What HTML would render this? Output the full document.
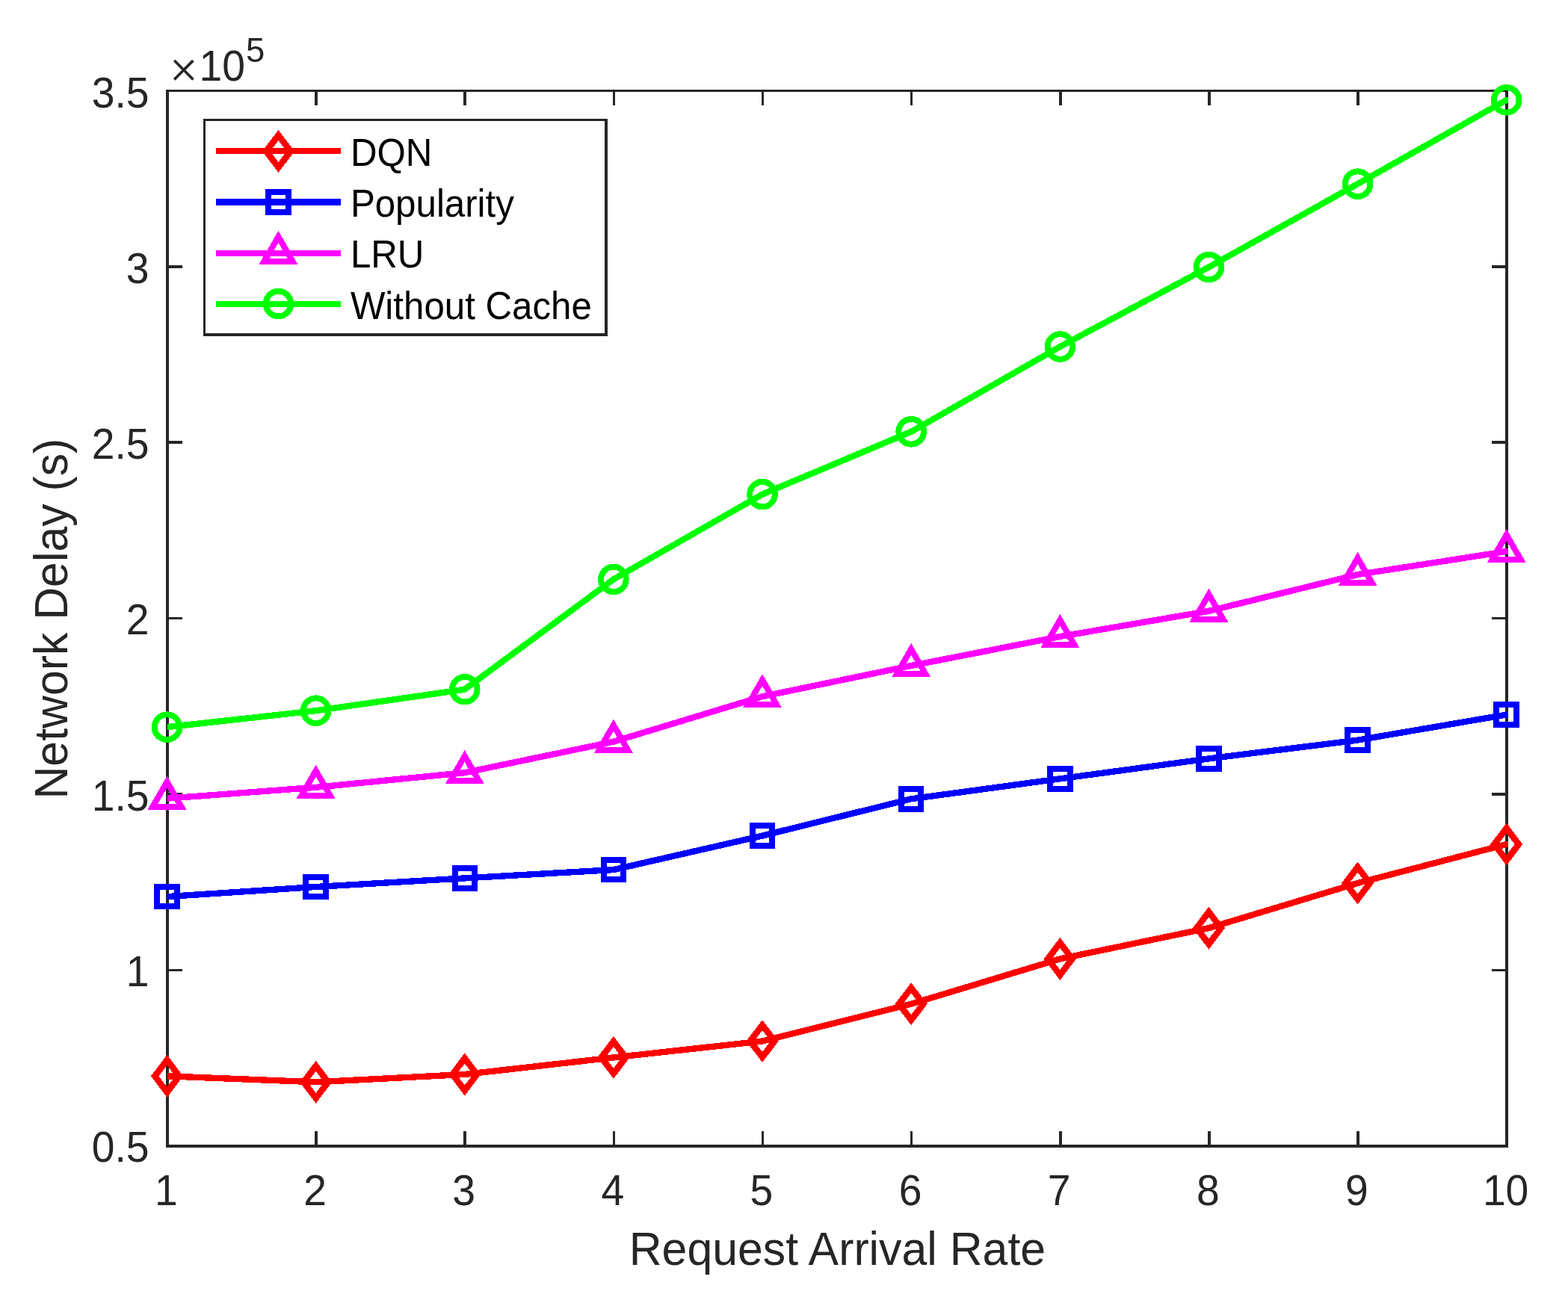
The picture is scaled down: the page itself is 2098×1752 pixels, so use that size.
<!DOCTYPE html>
<html lang="en"><head><meta charset="utf-8"><title>Network Delay vs Request Arrival Rate</title>
<style>
html,body{margin:0;padding:0;background:#fff;}
body{width:2098px;height:1752px;overflow:hidden;}
svg{display:block;}
text{font-family:"Liberation Sans",sans-serif;}
.tk{font-size:54.17px;fill:#262626;}
.mul{stroke:#fff;stroke-width:1.0px;}
.lb{font-size:59.6px;fill:#262626;}
.lg{font-size:50px;fill:#000;}
</style></head><body>
<svg width="2098" height="1752" viewBox="0 0 2098 1752" shape-rendering="crispEdges">
<rect x="0" y="0" width="2098" height="1752" fill="#ffffff"/>
<defs><clipPath id="ax"><rect x="223.9" y="121.5" width="1793.9999999999998" height="1412.35"/></clipPath></defs>

<g stroke="#262626" stroke-width="3.6" fill="none" stroke-linecap="butt">
<rect x="223.9" y="121.5" width="1792.1999999999998" height="1412.35"/>
<line x1="423.03" y1="1533.85" x2="423.03" y2="1513.85"/>
<line x1="423.03" y1="121.5" x2="423.03" y2="140.8"/>
<line x1="622.17" y1="1533.85" x2="622.17" y2="1513.85"/>
<line x1="622.17" y1="121.5" x2="622.17" y2="140.8"/>
<line x1="821.30" y1="1533.85" x2="821.30" y2="1513.85"/>
<line x1="821.30" y1="121.5" x2="821.30" y2="140.8"/>
<line x1="1020.43" y1="1533.85" x2="1020.43" y2="1513.85"/>
<line x1="1020.43" y1="121.5" x2="1020.43" y2="140.8"/>
<line x1="1219.57" y1="1533.85" x2="1219.57" y2="1513.85"/>
<line x1="1219.57" y1="121.5" x2="1219.57" y2="140.8"/>
<line x1="1418.70" y1="1533.85" x2="1418.70" y2="1513.85"/>
<line x1="1418.70" y1="121.5" x2="1418.70" y2="140.8"/>
<line x1="1617.83" y1="1533.85" x2="1617.83" y2="1513.85"/>
<line x1="1617.83" y1="121.5" x2="1617.83" y2="140.8"/>
<line x1="1816.97" y1="1533.85" x2="1816.97" y2="1513.85"/>
<line x1="1816.97" y1="121.5" x2="1816.97" y2="140.8"/>
<line x1="223.9" y1="1298.46" x2="243.9" y2="1298.46"/>
<line x1="2016.1" y1="1298.46" x2="1996.1" y2="1298.46"/>
<line x1="223.9" y1="1063.07" x2="243.9" y2="1063.07"/>
<line x1="2016.1" y1="1063.07" x2="1996.1" y2="1063.07"/>
<line x1="223.9" y1="827.68" x2="243.9" y2="827.68"/>
<line x1="2016.1" y1="827.68" x2="1996.1" y2="827.68"/>
<line x1="223.9" y1="592.28" x2="243.9" y2="592.28"/>
<line x1="2016.1" y1="592.28" x2="1996.1" y2="592.28"/>
<line x1="223.9" y1="356.89" x2="243.9" y2="356.89"/>
<line x1="2016.1" y1="356.89" x2="1996.1" y2="356.89"/>
</g>
<text class="tk" transform="translate(222.40 1612.70) scale(1.02 1.045)" text-anchor="middle">1</text>
<text class="tk" transform="translate(421.53 1612.70) scale(1.02 1.045)" text-anchor="middle">2</text>
<text class="tk" transform="translate(620.67 1612.70) scale(1.02 1.045)" text-anchor="middle">3</text>
<text class="tk" transform="translate(819.80 1612.70) scale(1.02 1.045)" text-anchor="middle">4</text>
<text class="tk" transform="translate(1018.93 1612.70) scale(1.02 1.045)" text-anchor="middle">5</text>
<text class="tk" transform="translate(1218.07 1612.70) scale(1.02 1.045)" text-anchor="middle">6</text>
<text class="tk" transform="translate(1417.20 1612.70) scale(1.02 1.045)" text-anchor="middle">7</text>
<text class="tk" transform="translate(1616.33 1612.70) scale(1.02 1.045)" text-anchor="middle">8</text>
<text class="tk" transform="translate(1815.47 1612.70) scale(1.02 1.045)" text-anchor="middle">9</text>
<text class="tk" transform="translate(2014.60 1612.70) scale(1.02 1.045)" text-anchor="middle">10</text>
<text class="tk" transform="translate(199.50 1555.00) scale(1.02 1.045)" text-anchor="end">0.5</text>
<text class="tk" transform="translate(199.50 1319.79) scale(1.02 1.045)" text-anchor="end">1</text>
<text class="tk" transform="translate(199.50 1084.58) scale(1.02 1.045)" text-anchor="end">1.5</text>
<text class="tk" transform="translate(199.50 849.38) scale(1.02 1.045)" text-anchor="end">2</text>
<text class="tk" transform="translate(199.50 614.17) scale(1.02 1.045)" text-anchor="end">2.5</text>
<text class="tk" transform="translate(199.50 378.96) scale(1.02 1.045)" text-anchor="end">3</text>
<text class="tk" transform="translate(199.50 143.75) scale(1.02 1.045)" text-anchor="end">3.5</text>
<text class="tk mul" transform="translate(226.60 115.80)" text-anchor="start" style="font-size:66.0px">×</text>
<text class="tk" transform="translate(266.50 108.00) scale(1.02 1.045)" text-anchor="start">10</text>
<text class="tk" transform="translate(329.00 83.20) scale(1.02 1.045)" text-anchor="start" style="font-size:44.6px">5</text>
<text class="lb" transform="translate(1120.40 1693.20) scale(1.02 1.07)" text-anchor="middle">Request Arrival Rate</text>
<text class="lb" transform="translate(90.10 828.10) rotate(-90) scale(1.02 1.07)" text-anchor="middle">Network Delay (s)</text>
<g clip-path="url(#ax)" fill="none" stroke-linejoin="round" stroke-linecap="round">
<polyline points="223.50,1440.30 422.63,1448.30 621.77,1438.00 820.90,1415.40 1020.03,1393.50 1219.17,1343.70 1418.30,1283.40 1617.43,1242.10 1816.57,1182.00 2015.70,1130.00" stroke="#ff0000" stroke-width="8.33"/>
<polyline points="223.50,1200.10 422.63,1187.00 621.77,1175.40 820.90,1164.10 1020.03,1118.60 1219.17,1069.30 1418.30,1042.30 1617.43,1015.40 1816.57,990.60 2015.70,956.50" stroke="#0000ff" stroke-width="8.33"/>
<polyline points="223.50,1068.70 422.63,1053.80 621.77,1034.20 820.90,992.70 1020.03,932.20 1219.17,891.00 1418.30,852.00 1617.43,817.80 1816.57,769.00 2015.70,738.00" stroke="#ff00ff" stroke-width="8.33"/>
<polyline points="223.50,973.20 422.63,951.20 621.77,922.70 820.90,775.40 1020.03,661.60 1219.17,577.80 1418.30,464.00 1617.43,357.50 1816.57,246.20 2015.70,133.80" stroke="#00ff00" stroke-width="8.33"/>
</g>
<g>
<path d="M223.50 1418.80L239.80 1440.30L223.50 1461.80L207.20 1440.30Z" fill="none" stroke="#ff0000" stroke-width="8.5" stroke-linejoin="miter" stroke-miterlimit="10"/>
<path d="M422.63 1426.80L438.93 1448.30L422.63 1469.80L406.33 1448.30Z" fill="none" stroke="#ff0000" stroke-width="8.5" stroke-linejoin="miter" stroke-miterlimit="10"/>
<path d="M621.77 1416.50L638.07 1438.00L621.77 1459.50L605.47 1438.00Z" fill="none" stroke="#ff0000" stroke-width="8.5" stroke-linejoin="miter" stroke-miterlimit="10"/>
<path d="M820.90 1393.90L837.20 1415.40L820.90 1436.90L804.60 1415.40Z" fill="none" stroke="#ff0000" stroke-width="8.5" stroke-linejoin="miter" stroke-miterlimit="10"/>
<path d="M1020.03 1372.00L1036.33 1393.50L1020.03 1415.00L1003.73 1393.50Z" fill="none" stroke="#ff0000" stroke-width="8.5" stroke-linejoin="miter" stroke-miterlimit="10"/>
<path d="M1219.17 1322.20L1235.47 1343.70L1219.17 1365.20L1202.87 1343.70Z" fill="none" stroke="#ff0000" stroke-width="8.5" stroke-linejoin="miter" stroke-miterlimit="10"/>
<path d="M1418.30 1261.90L1434.60 1283.40L1418.30 1304.90L1402.00 1283.40Z" fill="none" stroke="#ff0000" stroke-width="8.5" stroke-linejoin="miter" stroke-miterlimit="10"/>
<path d="M1617.43 1220.60L1633.73 1242.10L1617.43 1263.60L1601.13 1242.10Z" fill="none" stroke="#ff0000" stroke-width="8.5" stroke-linejoin="miter" stroke-miterlimit="10"/>
<path d="M1816.57 1160.50L1832.87 1182.00L1816.57 1203.50L1800.27 1182.00Z" fill="none" stroke="#ff0000" stroke-width="8.5" stroke-linejoin="miter" stroke-miterlimit="10"/>
<path d="M2015.70 1108.50L2032.00 1130.00L2015.70 1151.50L1999.40 1130.00Z" fill="none" stroke="#ff0000" stroke-width="8.5" stroke-linejoin="miter" stroke-miterlimit="10"/>
</g>
<g>
<rect x="210.25" y="1186.85" width="26.50" height="26.50" fill="none" stroke="#0000ff" stroke-width="8.0"/>
<rect x="409.38" y="1173.75" width="26.50" height="26.50" fill="none" stroke="#0000ff" stroke-width="8.0"/>
<rect x="608.52" y="1162.15" width="26.50" height="26.50" fill="none" stroke="#0000ff" stroke-width="8.0"/>
<rect x="807.65" y="1150.85" width="26.50" height="26.50" fill="none" stroke="#0000ff" stroke-width="8.0"/>
<rect x="1006.78" y="1105.35" width="26.50" height="26.50" fill="none" stroke="#0000ff" stroke-width="8.0"/>
<rect x="1205.92" y="1056.05" width="26.50" height="26.50" fill="none" stroke="#0000ff" stroke-width="8.0"/>
<rect x="1405.05" y="1029.05" width="26.50" height="26.50" fill="none" stroke="#0000ff" stroke-width="8.0"/>
<rect x="1604.18" y="1002.15" width="26.50" height="26.50" fill="none" stroke="#0000ff" stroke-width="8.0"/>
<rect x="1803.32" y="977.35" width="26.50" height="26.50" fill="none" stroke="#0000ff" stroke-width="8.0"/>
<rect x="2002.45" y="943.25" width="26.50" height="26.50" fill="none" stroke="#0000ff" stroke-width="8.0"/>
</g>
<g>
<path d="M223.50 1046.50L242.50 1079.50L204.50 1079.50Z" fill="none" stroke="#ff00ff" stroke-width="8.0" stroke-linejoin="miter" stroke-miterlimit="10"/>
<path d="M422.63 1031.60L441.63 1064.60L403.63 1064.60Z" fill="none" stroke="#ff00ff" stroke-width="8.0" stroke-linejoin="miter" stroke-miterlimit="10"/>
<path d="M621.77 1012.00L640.77 1045.00L602.77 1045.00Z" fill="none" stroke="#ff00ff" stroke-width="8.0" stroke-linejoin="miter" stroke-miterlimit="10"/>
<path d="M820.90 970.50L839.90 1003.50L801.90 1003.50Z" fill="none" stroke="#ff00ff" stroke-width="8.0" stroke-linejoin="miter" stroke-miterlimit="10"/>
<path d="M1020.03 910.00L1039.03 943.00L1001.03 943.00Z" fill="none" stroke="#ff00ff" stroke-width="8.0" stroke-linejoin="miter" stroke-miterlimit="10"/>
<path d="M1219.17 868.80L1238.17 901.80L1200.17 901.80Z" fill="none" stroke="#ff00ff" stroke-width="8.0" stroke-linejoin="miter" stroke-miterlimit="10"/>
<path d="M1418.30 829.80L1437.30 862.80L1399.30 862.80Z" fill="none" stroke="#ff00ff" stroke-width="8.0" stroke-linejoin="miter" stroke-miterlimit="10"/>
<path d="M1617.43 795.60L1636.43 828.60L1598.43 828.60Z" fill="none" stroke="#ff00ff" stroke-width="8.0" stroke-linejoin="miter" stroke-miterlimit="10"/>
<path d="M1816.57 746.80L1835.57 779.80L1797.57 779.80Z" fill="none" stroke="#ff00ff" stroke-width="8.0" stroke-linejoin="miter" stroke-miterlimit="10"/>
<path d="M2015.70 715.80L2034.70 748.80L1996.70 748.80Z" fill="none" stroke="#ff00ff" stroke-width="8.0" stroke-linejoin="miter" stroke-miterlimit="10"/>
</g>
<g>
<circle cx="223.50" cy="973.20" r="16.8" fill="none" stroke="#00ff00" stroke-width="8.0"/>
<circle cx="422.63" cy="951.20" r="16.8" fill="none" stroke="#00ff00" stroke-width="8.0"/>
<circle cx="621.77" cy="922.70" r="16.8" fill="none" stroke="#00ff00" stroke-width="8.0"/>
<circle cx="820.90" cy="775.40" r="16.8" fill="none" stroke="#00ff00" stroke-width="8.0"/>
<circle cx="1020.03" cy="661.60" r="16.8" fill="none" stroke="#00ff00" stroke-width="8.0"/>
<circle cx="1219.17" cy="577.80" r="16.8" fill="none" stroke="#00ff00" stroke-width="8.0"/>
<circle cx="1418.30" cy="464.00" r="16.8" fill="none" stroke="#00ff00" stroke-width="8.0"/>
<circle cx="1617.43" cy="357.50" r="16.8" fill="none" stroke="#00ff00" stroke-width="8.0"/>
<circle cx="1816.57" cy="246.20" r="16.8" fill="none" stroke="#00ff00" stroke-width="8.0"/>
<circle cx="2015.70" cy="133.80" r="16.8" fill="none" stroke="#00ff00" stroke-width="8.0"/>
</g>
<rect x="273.5" y="160.6" width="537.5" height="287.4" fill="#fff" stroke="#262626" stroke-width="3.6"/>
<line x1="289" y1="202.0" x2="456" y2="202.0" stroke="#ff0000" stroke-width="8.33"/>
<path d="M372.50 181.00L388.80 202.50L372.50 224.00L356.20 202.50Z" fill="none" stroke="#ff0000" stroke-width="8.5" stroke-linejoin="miter" stroke-miterlimit="10"/>
<text class="lg" transform="translate(468.90 222.00) scale(0.985 1.03)" text-anchor="start">DQN</text>
<line x1="289" y1="270.5" x2="456" y2="270.5" stroke="#0000ff" stroke-width="9.0"/>
<rect x="359.25" y="257.05" width="26.50" height="26.50" fill="none" stroke="#0000ff" stroke-width="8.0"/>
<text class="lg" transform="translate(468.90 290.20) scale(0.985 1.03)" text-anchor="start">Popularity</text>
<line x1="289" y1="339.0" x2="456" y2="339.0" stroke="#ff00ff" stroke-width="8.33"/>
<path d="M372.50 316.80L391.50 349.80L353.50 349.80Z" fill="none" stroke="#ff00ff" stroke-width="8.0" stroke-linejoin="miter" stroke-miterlimit="10"/>
<text class="lg" transform="translate(468.90 358.40) scale(0.985 1.03)" text-anchor="start">LRU</text>
<line x1="289" y1="407.0" x2="456" y2="407.0" stroke="#00ff00" stroke-width="8.33"/>
<circle cx="372.50" cy="406.50" r="16.8" fill="none" stroke="#00ff00" stroke-width="8.0"/>
<text class="lg" transform="translate(468.90 427.00) scale(0.985 1.03)" text-anchor="start">Without Cache</text>
</svg>
</body></html>
